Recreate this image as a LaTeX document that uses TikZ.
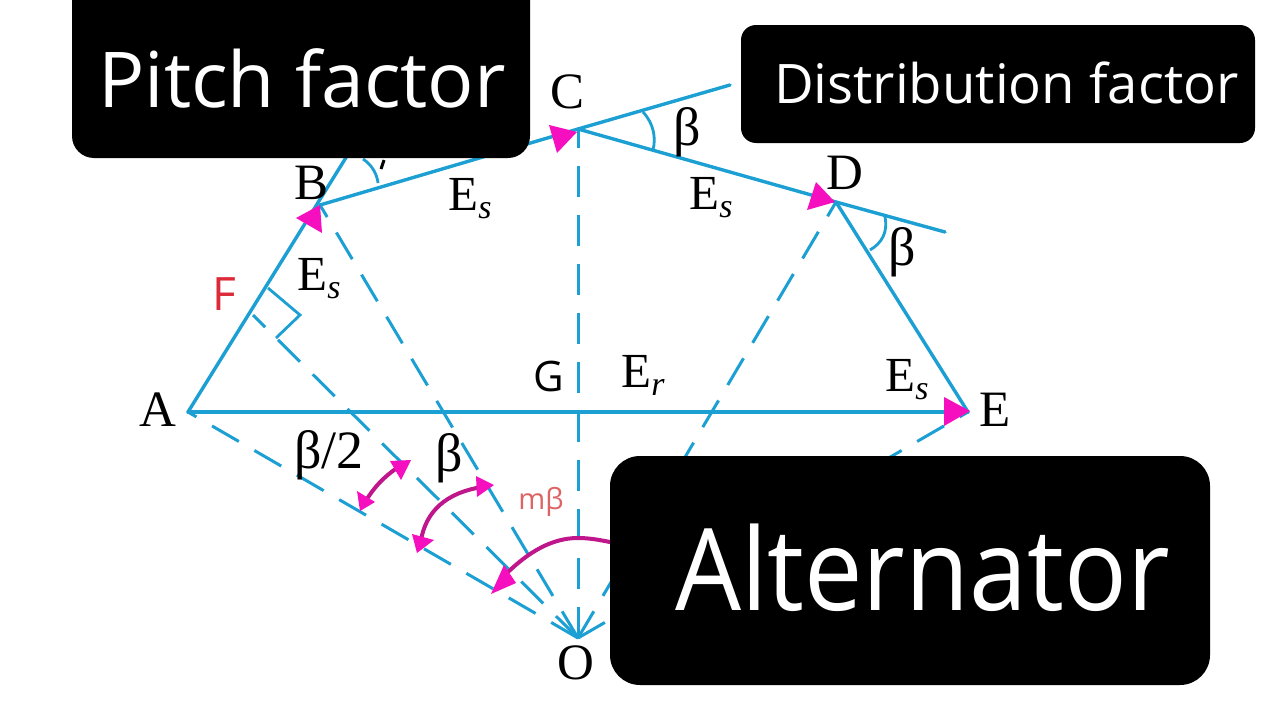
\documentclass[tikz,border=0pt]{standalone}
\usepackage{fontspec}
\setmainfont{Liberation Serif}
\newfontfamily\uifont{Open Sans}
\definecolor{wire}{HTML}{1C9FD2}
\definecolor{pinkhead}{HTML}{F50FBE}
\definecolor{pinkarc}{HTML}{C0168C}
\definecolor{salmon}{HTML}{DE6464}
\definecolor{redF}{HTML}{DC2A38}
\begin{document}
\begin{tikzpicture}[x=1pt,y=-1pt,
  solidwire/.style={draw=wire,line width=3.4pt,line cap=round},
  thinwire/.style={draw=wire,line width=2.8pt},
  dashwire/.style={draw=wire,line width=3pt,dash pattern=on 31pt off 18pt},
  pinkline/.style={draw=pinkarc,line width=4pt},
  head/.style={fill=pinkhead,draw=none},
  blackbox/.style={fill=black,draw=none},
  lbl/.style={inner sep=0pt,font=\fontsize{51}{51}\selectfont,text=black},
  bet/.style={inner sep=0pt,font=\fontsize{54}{54}\selectfont,text=black},
  es/.style={inner sep=0pt,font=\fontsize{49}{49}\selectfont,text=black},
  whitetxt/.style={inner sep=0pt,text=white,anchor=west}]
\useasboundingbox (0,0) rectangle (1280,720);
\fill[white] (0,0) rectangle (1280,720);

\coordinate (A) at (188,412);
\coordinate (B) at (320,205);
\coordinate (C) at (578,129);
\coordinate (D) at (836,202);
\coordinate (E) at (968,412);
\coordinate (O) at (578,638);
\coordinate (Ftop) at (268,288);
\coordinate (Ffoot) at (253,315);
\coordinate (Bup) at (360,135);
\coordinate (Cext) at (730,85);
\coordinate (Dext) at (945,232);

% dashed radii
\foreach \p in {A,Ffoot,B,C,D,E} \draw[dashwire] (O) -- (\p);

% solid sides
\draw[solidwire] (A) -- (E);
\draw[solidwire] (A) -- (Bup);
\draw[solidwire] (B) -- (C) -- (Cext);
\draw[solidwire] (C) -- (D) -- (Dext);
\draw[solidwire] (D) -- (E);

% right angle mark and angle arcs
\draw[thinwire] (Ftop) -- (300,315) -- (276,338);
\draw[thinwire] (643,112) .. controls (654,124) and (656,138) .. (653,150);
\draw[thinwire] (885,217) .. controls (888,232) and (882,243) .. (870,250);
\draw[thinwire] (363,159) .. controls (372,165) and (377,174) .. (378,183);
\draw[line width=3pt,black] (384,160) -- (381,169);

% pink angle arrows
\draw[pinkline] (367,499) .. controls (377,483) and (389,473) .. (400,466);
\draw[pinkline] (421,540) .. controls (426,512) and (445,493) .. (482,487);
\draw[pinkline] (505,575) .. controls (528,552) and (552,538) .. (578,538) .. controls (590,538) and (600,540) .. (615,543);
\fill[head] (360,511) -- (357,491) -- (375,502) -- cycle;
\fill[head] (411,460) -- (390,461) -- (401,480) -- cycle;
\fill[head] (417,553) -- (412,534) -- (434,540) -- cycle;
\fill[head] (494,485) -- (476,476) -- (477,497) -- cycle;
\fill[head] (491,594) -- (504,565) -- (516,583) -- cycle;

% vector heads
\fill[head] (296,218) -- (320,205) -- (322,233) -- cycle;
\fill[head] (549,125) -- (577,132) -- (557,153) -- cycle;
\fill[head] (816,182) -- (835,202) -- (807,210) -- cycle;
\fill[head] (944,397) -- (970,411) -- (944,426) -- cycle;

% labels
\node[lbl] (lA) at (158,410) {A};
\node[lbl] (lB) at (312,183) {B};
\node[lbl] (lC) at (568,92) {C};
\node[lbl] (lD) at (845,173) {D};
\node[lbl] (lE) at (995,410) {E};
\node[lbl] (lO) at (576,663) {O};
\node[es] (es1) at (470,199) {E\textit{\fontsize{34}{34}\selectfont\raisebox{-8pt}{s}}};
\node[es] (es2) at (711,198) {E\textit{\fontsize{34}{34}\selectfont\raisebox{-8pt}{s}}};
\node[es] (es3) at (319,279) {E\textit{\fontsize{34}{34}\selectfont\raisebox{-8pt}{s}}};
\node[es] (es4) at (907,380) {E\textit{\fontsize{34}{34}\selectfont\raisebox{-8pt}{s}}};
\node[es] (er) at (643,375) {E\textit{\fontsize{34}{34}\selectfont\raisebox{-8pt}{r}}};
\node[bet] (b1) at (687,132) {β};
\node[bet] (b2) at (902,252) {β};
\node[bet] (b3) at (449,458) {β};
\node[bet] (b4) at (329,455) {β/2};
\node[inner sep=0pt,text=redF,font=\uifont\fontsize{46}{46}\selectfont] (F) at (224,294) {F};
\node[inner sep=0pt,text=black,font=\uifont\fontsize{42}{42}\selectfont] (G) at (549,376) {G};
\node[inner sep=0pt,text=salmon,font=\uifont\fontsize{29}{29}\selectfont] (mb) at (541,502) {mβ};

% overlay boxes
\fill[blackbox,rounded corners=22pt] (72,-30) rectangle (530,158);
\fill[blackbox,rounded corners=15pt] (741,25) rectangle (1255,143);
\fill[blackbox,rounded corners=30pt] (610,456) rectangle (1210,685);
\node[whitetxt,font=\uifont\fontsize{77}{77}\selectfont] (t1) at (98,78) {Pitch factor};
\node[whitetxt,font=\uifont\fontsize{54.5}{54.5}\selectfont] (t2) at (774,83) {Distribution factor};
\node[whitetxt,font=\uifont\fontsize{114}{114}\selectfont] (t3) at (675,568) {\scalebox{0.915}[1]{Alternator}};
\end{tikzpicture}
\end{document}
